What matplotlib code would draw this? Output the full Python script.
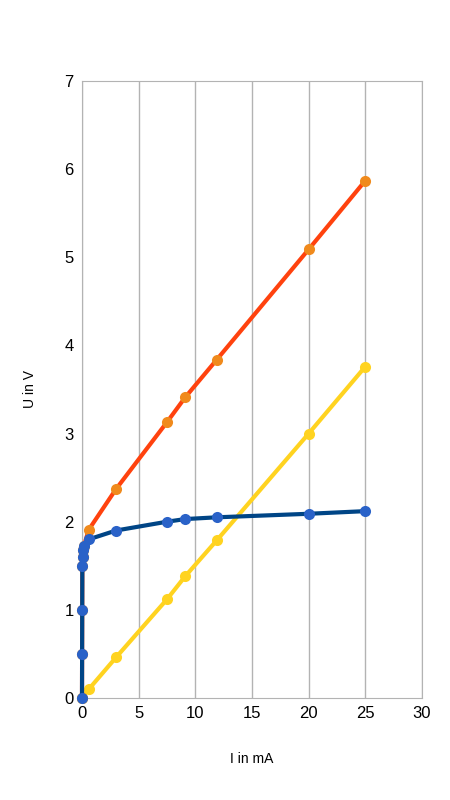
import matplotlib
matplotlib.use("Agg")
import matplotlib.pyplot as plt

i_blue = [0, 0.01, 0.02, 0.03, 0.05, 0.1, 0.15, 0.6, 3, 7.5, 9.1, 11.9, 20, 25]
u_blue = [0, 0.5, 1.0, 1.5, 1.6, 1.68, 1.72, 1.8, 1.9, 2.0, 2.03, 2.05, 2.09, 2.12]
i_orange = [0, 0.01, 0.02, 0.03, 0.05, 0.1, 0.15, 0.6, 3, 7.5, 9.1, 11.9, 20, 25]
u_orange = [0, 0.5, 1.0, 1.5, 1.6, 1.68, 1.72, 1.91, 2.37, 3.13, 3.41, 3.84, 5.09, 5.87]
i_yellow = [0, 0.6, 3, 7.5, 9.1, 11.9, 20, 25]
u_yellow = [0, 0.1, 0.46, 1.12, 1.38, 1.79, 3.0, 3.76]

fig = plt.figure(figsize=(4.5, 8), dpi=100)
ax = fig.add_axes([82/450, 102/800, 340/450, 617/800])
kw = dict(lw=3, marker='o', ms=8, mec='none', solid_joinstyle='round')
ax.plot(i_yellow, u_yellow, color='#ffd320', **kw, zorder=3)
ax.plot(i_orange, u_orange, color='#ff420e', mfc='#f08a1c', **kw, zorder=4)
ax.plot(i_blue, u_blue, color='#004586', mfc='#2a62c8', **kw, zorder=5)
ax.set_xlim(0, 30)
ax.set_ylim(0, 7)
ax.set_xticks(range(0, 31, 5))
ax.set_yticks(range(0, 8))
ax.grid(axis='x', color='#b3b3b3', lw=1)
for s in ax.spines.values():
    s.set_color('#b3b3b3')
ax.tick_params(length=0, labelsize=12, pad=6)
for t in ax.get_xticklabels() + ax.get_yticklabels():
    t.set_family('Liberation Sans')
ax.set_xlabel('I in mA', family='Liberation Sans', fontsize=10, labelpad=22)
ax.set_ylabel('U in V', family='Liberation Sans', fontsize=10, labelpad=20)
for a in (ax,):
    a.set_clip_on(False)
for l in ax.lines:
    l.set_clip_on(False)
fig.savefig('out.png')
